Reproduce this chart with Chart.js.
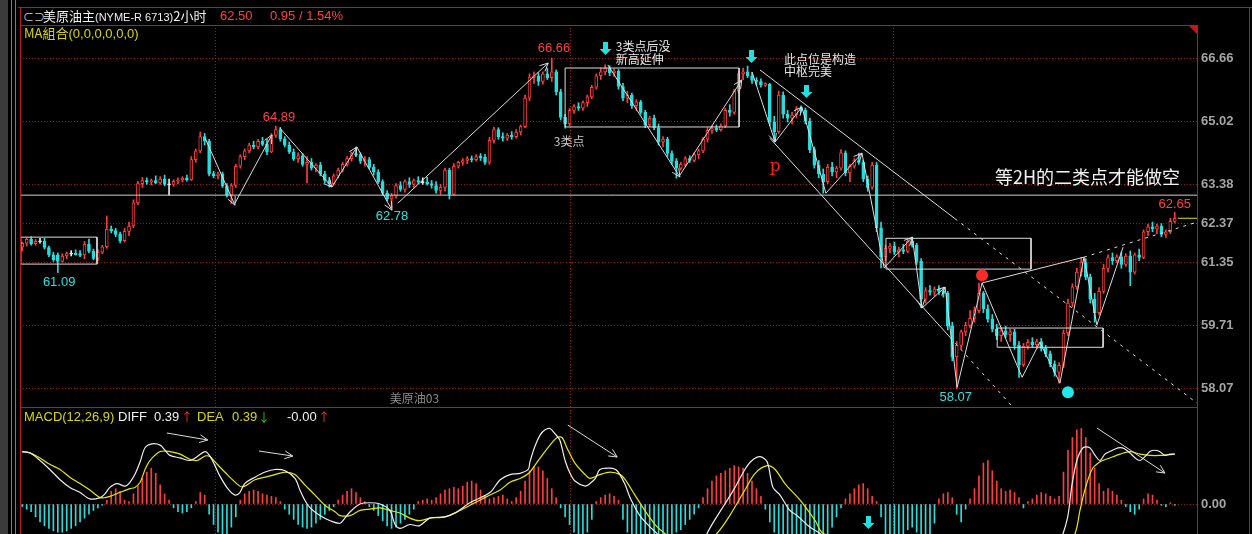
<!DOCTYPE html>
<html>
<head>
<meta charset="utf-8">
<title>美原油主 2小时</title>
<script src="https://cdn.jsdelivr.net/npm/chart.js@4.4.1/dist/chart.umd.min.js"></script>
<style>
  html, body { margin: 0; padding: 0; background: #000; }
  body { width: 1252px; height: 534px; position: relative; overflow: hidden;
         font-family: "Noto Sans CJK SC", "Liberation Sans", sans-serif; }
  .abs { position: absolute; }
  .red { background: #c01818; }
  .txt { position: absolute; white-space: nowrap; font-size: 13px; line-height: 14px; }
  .num { font-family: "Liberation Sans", Arial, sans-serif; }
</style>
</head>
<body>
<div class="abs" style="left:0;top:0;width:8px;height:534px;background:#3b3b3b"></div>
<div class="abs" style="left:11px;top:0;width:1px;height:534px;background:#7a7a7a"></div>
<div class="abs" style="left:15px;top:0;width:1px;height:534px;background:#7a7a7a"></div>

<div class="abs" style="left:0;top:25px;width:1252px;height:382px"><canvas id="priceChart" width="1252" height="382"></canvas></div>
<div class="abs" style="left:0;top:407px;width:1252px;height:127px"><canvas id="macdChart" width="1252" height="127"></canvas></div>

<!-- frame -->
<div class="abs red" style="left:18px;top:7px;width:1234px;height:1px"></div>
<div class="abs red" style="left:20px;top:25px;width:1178px;height:1px"></div>
<div class="abs red" style="left:20px;top:407px;width:1178px;height:1px"></div>
<div class="abs red" style="left:20px;top:7px;width:1px;height:527px"></div>
<div class="abs red" style="left:1197px;top:25px;width:1px;height:509px"></div>
<div class="abs red" style="left:1249px;top:7px;width:1px;height:527px"></div>
<div class="abs" style="left:1189px;top:26px;width:0;height:0;border-top:8px solid #c01818;border-left:8px solid transparent"></div>

<!-- header -->
<div class="txt" style="left:23px;top:9px;color:#cfcfcf;font-size:11px">⊂⊃</div>
<div class="txt" style="left:43px;top:9px;color:#f0f0f0">美原油主<span class="num" style="font-size:11px">(NYME-R 6713)</span>2小时</div>
<div class="txt num" style="left:220px;top:9px;color:#ff4040">62.50</div>
<div class="txt num" style="left:270px;top:9px;color:#ff4040">0.95 / 1.54%</div>
<div class="txt" style="left:24px;top:26px;color:#d8d800">MA組合<span class="num">(0,0,0,0,0,0)</span></div>

<div class="txt num" style="left:24px;top:410px;color:#d8d800">MACD(12,26,9)</div>
<div class="txt num" style="left:118px;top:410px;color:#f0f0f0">DIFF</div>
<div class="txt num" style="left:154px;top:410px;color:#f0f0f0">0.39</div>
<div class="txt" style="left:181px;top:410px;color:#ff3030;font-size:12px">↑</div>
<div class="txt num" style="left:197px;top:410px;color:#d8d800">DEA</div>
<div class="txt num" style="left:232px;top:410px;color:#d8d800">0.39</div>
<div class="txt" style="left:258px;top:410px;color:#20d020;font-size:12px">↓</div>
<div class="txt num" style="left:287px;top:410px;color:#f0f0f0">-0.00</div>
<div class="txt" style="left:318px;top:410px;color:#ff3030;font-size:12px">↑</div>

<script>
// ---- price panel data (2h candles: open, high, low, close) ----
const priceTicks = [66.66, 65.02, 63.38, 62.37, 61.35, 59.71, 58.07];

const candles = [
  [61.75,61.88,61.65,61.85],[61.85,62.00,61.78,61.95],[61.95,62.02,61.80,61.84],[61.84,61.95,61.80,61.90],[61.90,61.98,61.85,61.90],
  [61.90,61.98,61.70,61.74],[61.74,61.78,61.50,61.55],[61.55,61.62,61.38,61.42],[61.55,61.60,61.09,61.38],[61.38,61.58,61.36,61.52],
  [61.52,61.62,61.45,61.58],[61.58,61.66,61.52,61.58],[61.58,61.68,61.54,61.57],[61.57,61.66,61.50,61.55],[61.55,61.90,61.45,61.82],
  [61.82,61.96,61.60,61.64],[61.64,61.70,61.42,61.46],[61.46,61.68,61.40,61.62],[61.62,61.80,61.58,61.76],[61.76,62.56,61.72,62.22],
  [62.22,62.30,62.12,62.18],[62.18,62.24,62.02,62.08],[62.08,62.14,61.86,61.92],[61.92,62.24,61.88,62.16],[62.16,62.40,62.05,62.30],
  [62.30,62.98,62.25,62.90],[62.90,63.46,62.85,63.40],[63.40,63.56,63.30,63.48],[63.48,63.55,63.38,63.44],[63.44,63.52,63.36,63.48],
  [63.48,63.60,63.40,63.42],[63.42,63.58,63.38,63.52],[63.52,63.62,63.34,63.38],[63.38,63.52,63.10,63.38],[63.38,63.50,63.33,63.46],
  [63.46,63.55,63.40,63.50],[63.50,63.58,63.44,63.54],[63.54,63.62,63.46,63.50],[63.50,64.10,63.48,64.02],[64.02,64.30,63.95,64.25],
  [64.25,64.74,64.20,64.62],[64.62,64.70,64.40,64.50],[64.50,64.55,63.60,63.66],[63.66,63.72,63.55,63.60],[63.60,63.70,63.52,63.65],
  [63.65,63.70,63.30,63.34],[63.34,63.40,63.05,63.10],[63.10,63.40,62.88,63.35],[63.35,63.90,63.30,63.85],[63.85,64.15,63.80,64.10],
  [64.10,64.30,64.02,64.25],[64.25,64.45,64.20,64.40],[64.40,64.50,64.30,64.35],[64.35,64.55,64.30,64.50],[64.50,64.60,64.38,64.42],
  [64.42,64.55,64.15,64.22],[64.22,64.70,64.20,64.65],[64.65,64.89,64.60,64.80],[64.80,64.86,64.50,64.56],[64.56,64.62,64.35,64.40],
  [64.40,64.48,64.18,64.22],[64.22,64.30,64.00,64.05],[64.05,64.20,63.95,64.12],[64.12,64.18,63.85,63.90],[63.90,64.10,63.42,63.95],
  [63.95,64.05,63.75,63.80],[63.80,63.92,63.70,63.88],[63.88,63.95,63.60,63.65],[63.65,63.72,63.42,63.48],[63.48,63.56,63.31,63.40],
  [63.40,63.65,63.36,63.60],[63.60,63.80,63.55,63.75],[63.75,63.95,63.70,63.90],[63.90,64.10,63.85,64.05],[64.05,64.22,63.98,64.18],
  [64.18,64.35,64.10,64.15],[64.15,64.20,63.92,63.98],[63.98,64.10,63.85,64.02],[64.02,64.08,63.78,63.82],[63.82,63.90,63.62,63.70],
  [63.70,63.76,63.40,63.45],[63.45,63.50,63.10,63.15],[63.15,63.22,62.95,63.00],[63.00,63.15,62.78,63.08],[63.08,63.40,63.02,63.35],
  [63.35,63.45,63.20,63.25],[63.25,63.50,63.18,63.45],[63.45,63.55,63.30,63.38],[63.38,63.52,63.30,63.48],[63.48,63.58,63.40,63.44],
  [63.44,63.55,63.38,63.44],[63.44,63.56,63.36,63.40],[63.40,63.48,63.28,63.35],[63.35,63.45,63.15,63.22],[63.22,63.38,63.12,63.30],
  [63.30,63.80,63.20,63.75],[63.75,63.80,63.00,63.12],[63.12,63.92,63.10,63.85],[63.85,63.98,63.80,63.95],[63.95,64.05,63.88,64.00],
  [64.00,64.10,63.92,64.05],[64.05,64.12,63.96,64.02],[64.02,64.15,63.98,64.10],[64.10,64.18,64.00,64.08],[64.08,64.16,63.90,63.95],
  [63.95,64.60,63.90,64.52],[64.52,64.87,64.45,64.80],[64.80,64.85,64.55,64.62],[64.62,64.72,64.50,64.58],[64.58,64.70,64.52,64.66],
  [64.66,64.75,64.55,64.62],[64.62,64.80,64.58,64.74],[64.74,64.92,64.66,64.88],[64.88,65.70,64.85,65.62],[65.62,66.25,65.55,66.15],
  [66.15,66.30,66.00,66.20],[66.20,66.28,65.95,66.05],[66.05,66.30,65.98,66.25],[66.25,66.40,66.10,66.15],[66.15,66.66,66.05,66.30],
  [66.30,66.35,65.70,65.78],[65.78,65.85,65.05,65.12],[65.12,65.20,64.84,64.95],[64.95,65.35,64.90,65.30],[65.30,65.45,65.22,65.40],
  [65.40,65.50,65.30,65.36],[65.36,65.55,65.30,65.50],[65.50,65.70,65.40,65.65],[65.65,65.95,65.60,65.90],[65.90,66.25,65.85,66.20],
  [66.20,66.40,66.10,66.30],[66.30,66.48,66.22,66.40],[66.40,66.46,66.20,66.28],[66.28,66.38,66.18,66.32],[66.32,66.36,65.85,65.92],
  [65.92,66.00,65.55,65.62],[65.62,65.80,65.50,65.70],[65.70,65.75,65.35,65.42],[65.42,65.58,65.30,65.52],[65.52,65.56,65.20,65.25],
  [65.25,65.30,64.85,64.92],[64.92,65.15,64.88,65.10],[65.10,65.18,64.80,64.85],[64.85,64.95,64.40,64.48],[64.48,64.62,64.35,64.55],
  [64.55,64.60,64.10,64.18],[64.18,64.25,63.90,63.98],[63.98,64.05,63.54,63.80],[63.80,63.95,63.75,63.90],[63.90,64.10,63.85,64.05],
  [64.05,64.12,63.95,64.00],[64.00,64.20,63.96,64.15],[64.15,64.30,64.05,64.25],[64.25,64.60,64.20,64.55],[64.55,64.85,64.48,64.78],
  [64.78,64.90,64.70,64.82],[64.82,64.92,64.75,64.80],[64.80,64.95,64.76,64.90],[64.90,65.35,64.85,65.30],[65.30,65.45,65.15,65.25],
  [65.25,65.85,65.20,65.80],[65.80,66.30,65.75,66.25],[66.25,66.40,66.10,66.30],[66.30,66.45,66.15,66.20],[66.20,66.28,66.00,66.08],
  [66.08,66.15,65.95,66.05],[66.05,66.12,65.90,65.96],[65.96,66.02,65.92,65.98],[65.98,66.00,64.90,65.00],[65.00,65.15,64.48,64.75],
  [64.75,65.80,64.70,65.70],[65.70,65.78,65.10,65.20],[65.20,65.30,65.00,65.10],[65.10,65.25,64.95,65.18],[65.18,65.40,65.10,65.35],
  [65.35,65.42,65.25,65.30],[65.30,65.36,64.95,65.02],[65.02,65.10,64.20,64.28],[64.28,64.35,63.80,63.88],[63.88,64.00,63.55,63.65],
  [63.65,63.78,63.15,63.45],[63.45,63.90,63.40,63.82],[63.82,63.95,63.60,63.70],[63.70,63.85,63.55,63.80],[63.80,64.28,63.75,64.20],
  [64.20,64.25,63.60,63.68],[63.68,63.90,63.45,63.85],[63.85,64.05,63.80,64.00],[64.00,64.19,63.90,63.95],[63.95,64.00,63.45,63.52],
  [63.52,63.60,63.20,63.30],[63.30,63.95,63.25,63.88],[63.88,63.95,62.15,62.25],[62.25,62.40,61.21,61.50],[61.50,61.80,61.40,61.72],
  [61.72,61.85,61.60,61.78],[61.78,61.88,61.55,61.62],[61.62,61.75,61.50,61.68],[61.68,61.82,61.58,61.64],[61.64,61.98,61.60,61.90],
  [61.90,62.01,61.75,61.80],[61.80,61.85,61.30,61.38],[61.38,61.45,60.17,60.40],[60.40,60.70,60.30,60.62],[60.62,60.75,60.50,60.58],
  [60.58,60.72,60.48,60.66],[60.66,60.75,60.52,60.60],[60.60,60.71,60.45,60.55],[60.55,60.60,59.60,59.70],[59.70,59.80,58.80,58.90],
  [58.90,59.30,58.07,59.20],[59.20,59.60,59.10,59.55],[59.55,59.80,59.45,59.72],[59.72,60.10,59.65,59.90],[59.90,60.20,59.80,60.10],
  [60.10,60.82,60.05,60.55],[60.55,60.60,60.05,60.15],[60.15,60.25,59.80,59.88],[59.88,60.00,59.55,59.62],[59.62,59.75,59.35,59.45],
  [59.45,59.65,59.30,59.58],[59.58,59.70,59.40,59.48],[59.48,59.62,59.30,59.55],[59.55,59.62,59.10,59.20],[59.20,59.30,58.37,58.70],
  [58.70,59.25,58.65,59.18],[59.18,59.35,59.10,59.28],[59.28,59.40,59.15,59.22],[59.22,59.36,59.12,59.30],[59.30,59.38,59.05,59.12],
  [59.12,59.20,58.90,58.98],[58.98,59.05,58.65,58.72],[58.72,58.80,58.40,58.50],[58.50,58.75,58.22,58.68],[58.68,59.60,58.62,59.52],
  [59.52,60.40,59.45,60.30],[60.30,60.80,60.20,60.72],[60.72,61.20,60.65,61.10],[61.10,61.49,61.00,61.35],[61.35,61.45,60.90,60.98],
  [60.98,61.05,60.30,60.40],[60.40,60.55,59.80,60.05],[60.05,60.70,60.00,60.60],[60.60,61.30,60.55,61.20],[61.20,61.55,61.10,61.48],
  [61.48,61.60,61.30,61.40],[61.40,61.55,61.35,61.50],[61.50,61.62,61.20,61.30],[61.30,61.58,61.25,61.52],[61.52,61.65,60.75,61.10],
  [61.10,61.60,61.05,61.55],[61.55,61.70,61.40,61.48],[61.48,62.20,61.45,62.15],[62.15,62.35,62.05,62.28],[62.28,62.40,62.15,62.22],
  [62.22,62.35,62.10,62.30],[62.30,62.36,62.02,62.08],[62.08,62.20,62.00,62.15],[62.15,62.50,62.10,62.42],[62.42,62.65,62.38,62.50]
];
const lastPrice = 62.50;

// session separators (candle index)
const sessionBreaks = [43.3, 123.1, 195.7];

// hand-drawn strokes on the price panel: [i1, p1, i2, p2, arrowhead]
const strokes = [
  [41.1,64.58,47.8,62.84,1],[47.8,62.89,56.1,64.66,1],[57.9,64.84,69.6,63.31,1],[69.6,63.31,75.2,64.35,1],
  [75.2,64.35,83.1,62.71,1],[84.4,62.89,118.2,66.53,1],[131.6,66.48,147.8,63.57,1],[147.8,63.62,161.7,66.09,1],
  [164.0,66.30,169.2,64.48,1],[169.2,64.48,175.2,65.39,1],[175.2,65.39,180.6,63.15,0],[180.6,63.15,188.7,64.19,1],
  [188.7,64.19,193.7,61.21,0],[193.7,61.21,200.0,62.01,1],[200.0,62.01,202.2,60.17,1],[202.2,60.17,207.4,60.71,1],
  [207.4,60.71,210.1,58.11,0],[210.1,58.11,215.7,60.82,0],[215.7,60.82,224.7,58.37,0],[224.7,58.37,228.7,59.28,0],
  [228.7,59.28,233.2,58.22,0],[233.2,58.22,238.6,61.49,0],[238.6,61.49,241.5,59.73,0],[241.5,59.73,247.4,61.75,0]
];
const trendSolid = [[165.8,66.35,209.6,62.49,0],[168.0,64.58,208.5,59.41,0],[215.7,60.82,238.6,61.49,0]];
const trendDashed = [[209.6,62.49,264,57.70,0],[208.5,59.41,222.6,57.60,0],[238.6,61.49,264,62.40,0]];
const levelLine = [[-0.5,63.10,264,63.10,0]];
// pivot boxes: [i1, top, i2, bottom]
const boxes = [[-0.3,62.01,16.8,61.31],[122.0,66.40,161.1,64.87],[194.1,61.98,226.7,61.18],[219.1,59.65,242.9,59.15]];
const redDots = [[215.7,61.02]];
const cyanDots = [[235.0,57.98]];
const priceMarkers = [[131.0,66.92],[163.8,66.71],[176.1,65.80]];

// notes: [text, index, price, colour, font, align]
const RED = '#ff4040', CYAN = '#2fe0e0';
const CJK = '"Noto Sans CJK SC", sans-serif';
const priceNotes = [
  ['66.66', 119.5, 66.92, RED, '13px "Liberation Sans"', 'center'],
  ['64.89', 57.7, 65.13, RED, '13px "Liberation Sans"', 'center'],
  ['62.78', 83.1, 62.56, CYAN, '13px "Liberation Sans"', 'center'],
  ['61.09', 8.3, 60.84, CYAN, '13px "Liberation Sans"', 'center'],
  ['58.07', 209.8, 57.85, CYAN, '13px "Liberation Sans"', 'center'],
  ['62.65', 259.0, 62.87, RED, '13px "Liberation Sans"', 'center'],
  ['3类点', 122.9, 64.50, '#c8c8c8', '12px ' + CJK, 'center'],
  ['3类点后没', 133.4, 66.97, '#e8e8e8', '12px ' + CJK, 'left'],
  ['新高延伸', 133.4, 66.61, '#e8e8e8', '12px ' + CJK, 'left'],
  ['此点位是构造', 171.2, 66.63, '#e8e8e8', '12px ' + CJK, 'left'],
  ['中枢完美', 171.2, 66.30, '#e8e8e8', '12px ' + CJK, 'left'],
  ['等2H的二类点才能做空', 218.6, 63.57, '#f2f2f2', '18px ' + CJK, 'left'],
  ['p', 169.2, 63.85, '#ff2020', '17px "DejaVu Serif"', 'center'],
  ['美原油03', 82.6, 57.83, '#8c8c8c', '12px ' + CJK, 'left']
];

// ---- MACD panel data ----
const macdTicks = [0];
const macdHist = [
  -0.02,-0.04,-0.06,-0.10,-0.14,-0.17,-0.19,-0.21,-0.22,-0.22,
  -0.21,-0.19,-0.17,-0.14,-0.11,-0.08,-0.05,-0.03,-0.01,0.03,
  0.10,0.12,0.10,0.03,0.02,0.08,0.14,0.20,0.25,0.28,
  0.24,0.15,0.08,0.03,-0.03,-0.06,-0.07,-0.06,-0.03,0.02,
  0.09,0.07,-0.08,-0.16,-0.22,-0.24,-0.24,-0.18,-0.10,0.03,
  0.08,0.10,0.11,0.10,0.08,0.07,0.06,0.05,0.02,-0.04,
  -0.08,-0.12,-0.16,-0.18,-0.19,-0.18,-0.15,-0.12,-0.08,-0.05,
  -0.02,0.03,0.07,0.10,0.12,0.09,0.05,0.02,-0.02,-0.05,
  -0.09,-0.13,-0.17,-0.19,-0.18,-0.15,-0.12,-0.08,-0.04,0.02,
  0.03,0.04,0.03,0.05,0.08,0.11,0.12,0.13,0.12,0.14,
  0.17,0.18,0.16,0.11,0.06,0.04,0.05,0.06,0.07,0.04,
  0.02,0.05,0.10,0.18,0.26,0.29,0.29,0.26,0.20,0.12,
  0.05,-0.03,-0.10,-0.16,-0.22,-0.28,-0.28,-0.22,-0.12,0.02,
  0.05,0.07,0.08,0.06,0.03,-0.12,-0.22,-0.30,-0.35,-0.38,
  -0.36,-0.30,-0.26,-0.30,-0.33,-0.28,-0.24,-0.22,-0.20,-0.16,
  -0.12,-0.08,-0.03,0.05,0.12,0.18,0.22,0.24,0.26,0.28,
  0.30,0.29,0.28,0.24,0.18,0.12,0.06,-0.04,-0.14,-0.22,
  -0.26,-0.30,-0.33,-0.35,-0.36,-0.34,-0.36,-0.40,-0.42,-0.38,
  -0.32,-0.24,-0.18,-0.10,-0.03,0.04,0.08,0.12,0.15,0.16,
  0.12,0.06,0.02,-0.10,-0.24,-0.30,-0.32,-0.30,-0.26,-0.20,
  -0.18,-0.22,-0.28,-0.30,-0.24,-0.15,0.04,0.08,0.09,0.05,
  -0.08,-0.14,-0.04,0.04,0.12,0.22,0.32,0.34,0.26,0.18,
  0.12,0.10,0.11,0.09,0.05,-0.03,0.02,0.04,0.07,0.09,
  0.08,0.06,0.04,0.06,0.25,0.42,0.52,0.58,0.59,0.52,
  0.40,0.28,0.16,0.10,0.12,0.10,0.07,0.03,-0.02,-0.06,
  -0.08,-0.04,0.04,0.08,0.07,0.03,-0.01,-0.02,0.01,-0.01
];
// DIFF / DEA: [candle index, value]
const diffLine = [
  [0,0.41],[1.7,0.40],[4,0.34],[6.2,0.27],[8.5,0.19],[10.7,0.13],[13,0.09],[15.2,0.04],[17.5,0.05],[18.6,0.08],
  [19.7,0.13],[21.3,0.16],[23.1,0.14],[24.2,0.17],[25.3,0.23],[26.5,0.33],[27.6,0.44],[29.2,0.47],[31,0.46],[32.1,0.42],
  [33.2,0.38],[35.5,0.36],[37.7,0.34],[39.3,0.37],[41.1,0.41],[42.2,0.375],[43.3,0.30],[44.4,0.22],[46.2,0.12],[47.8,0.07],
  [48.9,0.09],[50,0.16],[52.3,0.21],[54.6,0.25],[56.8,0.27],[59.1,0.26],[61.3,0.20],[62.4,0.11],[63.5,0.03],[64.7,-0.03],
  [66.9,-0.09],[69.2,-0.13],[71.4,-0.15],[72.5,-0.11],[73.7,-0.06],[75.9,0],[78.1,0.01],[80.4,0],[82.6,-0.05],[83.8,-0.16],
  [84.9,-0.19],[87.1,-0.16],[89.2,-0.17],[91.6,-0.11],[95,-0.10],[97.3,-0.07],[100.6,0.01],[105.1,0.09],[107.4,0.19],[109.6,0.23],
  [111.9,0.24],[113.7,0.27],[114.1,0.33],[115.2,0.45],[116.4,0.54],[117.5,0.58],[118.6,0.59],[119.7,0.55],[120.8,0.50],[122,0.34],
  [123.1,0.24],[124.2,0.18],[126.5,0.14],[127.6,0.16],[128.8,0.20],[129.8,0.27],[132.1,0.28],[133.7,0.26],[135.5,0.15],[136.6,0.05],
  [138.8,-0.09],[141.1,-0.18],[142.6,-0.23],[144.4,-0.32],[147.8,-0.48],[151.2,-0.45],[153.9,-0.23],[155.7,-0.12],[157.9,0],[160.2,0.13],
  [162.4,0.27],[164,0.34],[165.8,0.37],[167.4,0.33],[168.7,0.13],[170.3,0.07],[172.5,-0.05],[174.1,-0.09],[177,-0.18],[179.3,-0.23],
  [183.8,-0.35],[190.5,-0.38],[194,-0.55],[201.7,-0.70],[210.7,-0.85],[217.4,-0.70],[226.4,-0.65],[232,-0.40],[233.9,-0.23],[235,-0.09],
  [235.9,0.15],[237,0.34],[238.4,0.44],[239.9,0.44],[241.1,0.38],[242.2,0.34],[243.3,0.39],[244.4,0.41],[245.6,0.43],[246.7,0.44],
  [247.8,0.43],[248.9,0.40],[250.1,0.36],[251.2,0.34],[252.3,0.37],[253.4,0.41],[254.5,0.42],[255.6,0.41],[256.8,0.38],[257.9,0.39],
  [259,0.39]
];
const deaLine = [
  [0,0.41],[1.7,0.40],[4,0.36],[6.2,0.31],[8.5,0.27],[10.7,0.21],[13,0.16],[15.2,0.11],[17.5,0.05],[18.6,0.05],
  [19.7,0.06],[21.9,0.09],[24.2,0.12],[25.3,0.13],[26.5,0.17],[27.6,0.27],[28.7,0.34],[31,0.41],[33.2,0.41],[35.5,0.39],
  [37.7,0.35],[39.3,0.34],[41.1,0.375],[42.2,0.37],[43.3,0.33],[45.5,0.25],[48.9,0.14],[50,0.14],[52.3,0.19],[54.6,0.21],
  [56.8,0.23],[59.1,0.25],[61.3,0.23],[63.5,0.15],[65.8,0.07],[68,-0.01],[70.3,-0.06],[71.4,-0.09],[73.7,-0.09],[75.9,-0.05],
  [78.1,-0.04],[80.4,-0.03],[82.6,-0.05],[84.9,-0.07],[87.1,-0.11],[89.2,-0.13],[91.6,-0.11],[95,-0.10],[98.4,-0.05],[100.6,-0.01],
  [102.8,0.03],[105.1,0.07],[107.4,0.11],[109.6,0.17],[111.9,0.20],[113,0.22],[114.1,0.25],[116.4,0.36],[118.6,0.46],[120.2,0.52],
  [121.3,0.52],[122.4,0.44],[124.2,0.32],[126.5,0.23],[127.6,0.20],[129.8,0.23],[132.1,0.25],[134.4,0.23],[135.5,0.19],[137.7,0.07],
  [139.9,-0.05],[142.2,-0.16],[144.4,-0.23],[147.8,-0.33],[152.3,-0.34],[156.1,-0.23],[159,-0.09],[162.4,0.11],[164.7,0.24],[167.4,0.30],
  [169.2,0.27],[171.4,0.16],[174.8,0.03],[178.2,-0.13],[180,-0.23],[190,-0.32],[205,-0.52],[215,-0.62],[225,-0.60],[233,-0.45],
  [236.6,-0.23],[237.7,-0.05],[238.8,0.11],[240.4,0.27],[242.2,0.33],[244.4,0.36],[246.7,0.39],[248.9,0.41],[251.2,0.39],[253.4,0.38],
  [255.7,0.38],[259,0.39]
];
const macdStrokes = [[32.5,0.555,41.7,0.50,1],[53.2,0.414,60.8,0.375,1],[122.6,0.617,133.7,0.367,1],[241.5,0.594,256.8,0.242,1]];
const macdMarkers = [[190.1,-0.14]];

// ---- helpers ----
const UP = '#ff3c3c', DOWN = '#25dede', DOJI = '#e8e8e8', PEN = '#dcdcdc', GRID = '#a81616';
const X_MAX = 264;

const segData = list => {
  const out = [];
  list.forEach(s => out.push({x: s[0], y: s[1]}, {x: s[2], y: s[3]}, {x: s[2], y: null}));
  return out;
};
const boxData = list => {
  const out = [];
  list.forEach(([i1, t, i2, b]) => out.push({x: i1, y: t}, {x: i2, y: t}, {x: i2, y: b}, {x: i1, y: b}, {x: i1, y: t}, {x: i1, y: null}));
  return out;
};
const penLine = (data, extra) => Object.assign({
  type: 'line', data, borderColor: PEN, borderWidth: 1, pointRadius: 0, tension: 0, spanGaps: false, order: 3
}, extra || {});

function overlay(opts) {
  return {
    id: 'overlay',
    beforeDatasetsDraw(chart) {
      const {ctx, chartArea: a, scales: {x}} = chart;
      ctx.save();
      ctx.strokeStyle = GRID;
      ctx.lineWidth = 1;
      ctx.setLineDash([1, 2]);
      sessionBreaks.forEach(b => {
        const px = Math.round(x.getPixelForValue(b)) + 0.5;
        ctx.beginPath();
        ctx.moveTo(px, a.top);
        ctx.lineTo(px, a.bottom);
        ctx.stroke();
      });
      ctx.restore();
    },
    afterDatasetsDraw(chart) {
      const {ctx, chartArea: a, scales: {x, y}} = chart;
      ctx.save();
      // price-axis labels, placed by the y scale
      ctx.fillStyle = '#a4a4a4';
      ctx.font = 'bold 13px "Liberation Sans", Arial';
      ctx.textAlign = 'left';
      ctx.textBaseline = 'middle';
      opts.ticks.forEach(v => ctx.fillText(v.toFixed(2), a.right + 4, y.getPixelForValue(v)));
      // arrow heads on the pen strokes
      ctx.strokeStyle = PEN;
      ctx.lineWidth = 1;
      opts.strokes.filter(s => s[4]).forEach(s => {
        const x1 = x.getPixelForValue(s[0]), y1 = y.getPixelForValue(s[1]);
        const x2 = x.getPixelForValue(s[2]), y2 = y.getPixelForValue(s[3]);
        const ang = Math.atan2(y2 - y1, x2 - x1);
        ctx.beginPath();
        [-0.45, 0.45].forEach(d => {
          ctx.moveTo(x2, y2);
          ctx.lineTo(x2 - 9 * Math.cos(ang + d), y2 - 9 * Math.sin(ang + d));
        });
        ctx.stroke();
      });
      // cyan down markers
      ctx.fillStyle = DOWN;
      opts.markers.forEach(([i, v]) => {
        const px = Math.round(x.getPixelForValue(i)), py = Math.round(y.getPixelForValue(v));
        ctx.fillRect(px - 2, py - 6, 5, 7);
        ctx.beginPath();
        ctx.moveTo(px - 5.5, py + 1);
        ctx.lineTo(px + 6.5, py + 1);
        ctx.lineTo(px + 0.5, py + 7);
        ctx.closePath();
        ctx.fill();
      });
      // text notes
      opts.notes.forEach(([t, i, v, color, font, align]) => {
        ctx.fillStyle = color;
        ctx.font = font;
        ctx.textAlign = align;
        ctx.fillText(t, x.getPixelForValue(i), y.getPixelForValue(v));
      });
      ctx.restore();
    }
  };
}

const baseOptions = (yMin, yMax, ticks) => ({
  responsive: false,
  animation: false,
  events: [],
  layout: {autoPadding: false, padding: {left: 20, right: 0, top: 0, bottom: 0}},
  plugins: {legend: {display: false}, tooltip: {enabled: false}},
  scales: {
    x: {type: 'linear', min: -0.5, max: X_MAX, offset: false, display: false},
    y: {
      position: 'right', min: yMin, max: yMax,
      afterBuildTicks: s => { s.ticks = ticks.map(v => ({value: v})); },
      afterFit: s => { s.width = 55; },
      grid: {color: GRID, lineWidth: 1, drawTicks: false},
      border: {display: false, dash: [1, 2]},
      ticks: {display: false}
    }
  }
});

// ---- price chart ----
const candleColor = candles.map(([o, h, l, c]) => c > o ? UP : c < o ? DOWN : DOJI);
const wickData = candles.map(([o, h, l, c], i) => ({x: i, y: [l, h]}));
const bodyData = candles.map(([o, h, l, c], i) => {
  const lo = Math.min(o, c), hi = Math.max(o, c);
  return {x: i, y: hi - lo < 0.026 ? [lo - 0.013, hi + 0.013] : [lo, hi]};
});

new Chart(document.getElementById('priceChart'), {
  type: 'bar',
  data: {
    datasets: [
      {type: 'scatter', data: redDots.map(([x, y]) => ({x, y})), pointRadius: 6, pointBackgroundColor: '#ff2a2a', pointBorderWidth: 0, order: 0},
      {type: 'scatter', data: cyanDots.map(([x, y]) => ({x, y})), pointRadius: 6, pointBackgroundColor: '#20e8e8', pointBorderWidth: 0, order: 0},
      penLine(segData(strokes), {order: 1}),
      penLine(segData(trendSolid), {order: 1}),
      penLine(segData(trendDashed), {order: 1, borderDash: [3, 5]}),
      penLine(segData(levelLine), {order: 6, borderColor: '#d0d0d0'}),
      penLine(boxData(boxes), {order: 2}),
      penLine([{x: 259.7, y: lastPrice}, {x: X_MAX, y: lastPrice}], {order: 2, borderColor: '#e6e600'}),
      {data: bodyData, grouped: false, barThickness: 3, borderSkipped: false,
       backgroundColor: candleColor.map(c => c === UP ? '#000' : c),
       borderColor: candleColor, borderWidth: 1, order: 8},
      {data: wickData, grouped: false, barThickness: 1, borderSkipped: false,
       backgroundColor: candleColor, borderWidth: 0, order: 9}
    ]
  },
  options: baseOptions(57.60, 67.517, priceTicks),
  plugins: [overlay({ticks: priceTicks, strokes, markers: priceMarkers, notes: priceNotes})]
});

// ---- MACD chart ----
new Chart(document.getElementById('macdChart'), {
  type: 'bar',
  data: {
    datasets: [
      penLine(segData(macdStrokes), {order: 0}),
      {type: 'line', data: diffLine.map(([x, y]) => ({x, y})), borderColor: '#eeeeee', borderWidth: 1.2,
       pointRadius: 0, tension: 0.3, order: 1},
      {type: 'line', data: deaLine.map(([x, y]) => ({x, y})), borderColor: '#e8e800', borderWidth: 1.2,
       pointRadius: 0, tension: 0.3, order: 2},
      {data: macdHist.map((v, i) => ({x: i, y: v})), grouped: false, barThickness: 1, borderWidth: 0,
       backgroundColor: macdHist.map(v => v >= 0 ? UP : DOWN), order: 5}
    ]
  },
  options: baseOptions(-0.234, 0.758, macdTicks),
  plugins: [overlay({ticks: macdTicks, strokes: macdStrokes, markers: macdMarkers, notes: []})]
});
</script>
</body>
</html>
